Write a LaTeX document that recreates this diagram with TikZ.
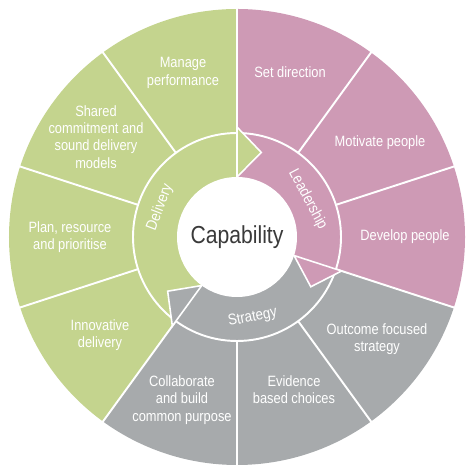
\documentclass[tikz,border=0pt]{standalone}
\usepackage{fontspec}
\setmainfont{Liberation Sans}[FakeStretch=0.86]
\definecolor{delivgreen}{RGB}{196,212,142}
\definecolor{leadpink}{RGB}{206,154,181}
\definecolor{stratgrey}{RGB}{167,170,172}
\definecolor{capgrey}{RGB}{58,58,58}

\begin{document}
\begin{tikzpicture}[
		lbl/.style={text=white, align=center, font=\fontsize{8.5}{9.8}\selectfont},
		ringlbl/.style={text=white, font=\fontsize{8.8}{10}\selectfont},
		sep/.style={white, line width=1.1pt},
		head/.style={draw=white, line width=0.9pt, line join=miter}]
				\useasboundingbox (-4.74, -4.74) rectangle (4.74, 4.74);
				% outer ring and arrow ring, one colour per area
				\fill[delivgreen] (0, 0) -- (90:4.56) arc (90:234:4.56) -- cycle;
				\fill[leadpink] (0, 0) -- (-18:4.56) arc (-18:90:4.56) -- cycle;
				\fill[stratgrey] (0, 0) -- (-126:4.56) arc (-126:-18:4.56) -- cycle;
				\foreach \a in {90, 54, 18, -18, -54, -90, -126, 198, 162, 126}
					\draw[sep] (\a:2.08) -- (\a:4.6);
				\draw[sep] (0, 0) circle (2.08);
				% arrow heads
				\filldraw[delivgreen, head] (90:1.2) -- (90:2.2) -- (74:1.76) -- cycle;
				\filldraw[leadpink, head] (-18:1.2) -- (-18:2.2) -- (-34:1.78) -- cycle;
				\filldraw[stratgrey, head] (234:1.2) -- (234:2.2) -- (218:1.76) -- cycle;
				\fill[white] (0, 0) circle (1.2);
				\node[text=capgrey, font=\fontsize{14}{16}\selectfont] (cap) at (0, 0) {Capability};
				\node[ringlbl, rotate=69] (deliv) at (159:1.65) {Delivery};
				\node[ringlbl, rotate=-62] (lead) at (28:1.6) {Leadership};
				\node[ringlbl, rotate=11] (strat) at (-79:1.64) {Strategy};
				\node[lbl] (manage) at (-1.08, 3.28) {Manage\\performance};
				\node[lbl] (shared) at (-2.82, 2.0) {Shared\\commitment and\\sound delivery\\models};
				\node[lbl] (plan) at (-3.34, 0) {Plan, resource\\and prioritise};
				\node[lbl] (innov) at (-2.74, -1.96) {Innovative\\delivery};
				\node[lbl] (collab) at (-1.1, -3.26) {Collaborate\\and build\\common purpose};
				\node[lbl] (evid) at (1.14, -3.06) {Evidence\\based choices};
				\node[lbl] (outc) at (2.8, -2.04) {Outcome focused\\strategy};
				\node[lbl] (devel) at (3.36, 0) {Develop people};
				\node[lbl] (motiv) at (2.86, 1.88) {Motivate people};
				\node[lbl] (setdir) at (1.06, 3.3) {Set direction};
			\end{tikzpicture}
\end{document}
